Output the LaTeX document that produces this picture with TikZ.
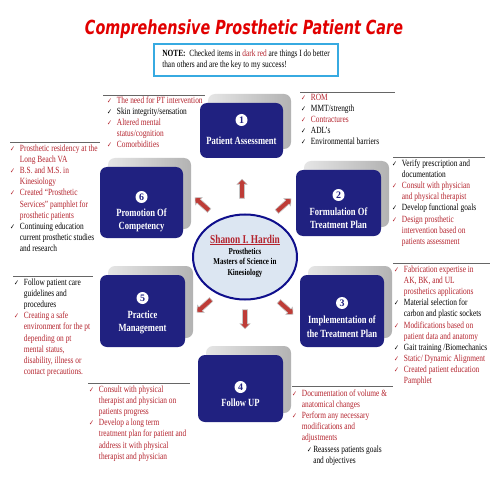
\documentclass[tikz,border=0pt]{standalone}
\usepackage{fontspec}
\setmainfont{Liberation Serif}
\newfontfamily\titlefont{DejaVu Sans}
\newfontfamily\checkfont{DejaVu Sans}
\usetikzlibrary{shapes.geometric,shapes.arrows}

\definecolor{navy}{RGB}{32,33,128}
\definecolor{dred}{RGB}{180,35,45}
\definecolor{titlered}{RGB}{225,0,0}
\definecolor{notecyan}{RGB}{55,170,225}
\definecolor{ellfill}{RGB}{220,230,242}
\definecolor{ellline}{RGB}{15,15,140}
\definecolor{arrowred}{RGB}{190,60,55}

\newcommand{\sq}[1]{\scalebox{0.78}[1]{#1}}
\newcommand{\ck}{{\checkfont\fontsize{7.5}{7.5}\selectfont ✓}}
\newcommand{\ok}[2]{\par\hangindent=12.5bp\hangafter=1\noindent\strut
  \textcolor{#1}{\makebox[12.5bp][l]{\ck}#2}}
\newcommand{\oksub}[2]{\par\hangindent=27bp\hangafter=1\noindent\strut
  \hspace*{19bp}\textcolor{#1}{\makebox[8bp][l]{\ck}#2}}
\newcommand{\block}[1]{\sq{\parbox[t]{170bp}{\fontsize{9.5}{11.2}\selectfont #1}}}
\newcommand{\lbl}[1]{\sq{\begin{tabular}{@{}c@{}}#1\end{tabular}}}

\begin{document}
\begin{tikzpicture}[x=1bp,y=-1bp,
    backbox/.style={rounded corners=7bp, left color=gray!20, right color=gray!60},
    frontbox/.style={rounded corners=7bp, fill=navy, inner sep=0pt},
    numdot/.style={circle, fill=white, inner sep=0pt, minimum size=12bp,
      text=navy, font=\bfseries\fontsize{10}{10}\selectfont},
    boxlabel/.style={text=white, font=\bfseries\fontsize{11}{13.5}\selectfont},
    ptr/.style={single arrow, fill=arrowred, draw=gray!45, line width=0.6bp,
      minimum height=19bp, minimum width=9.5bp, single arrow head extend=2.5bp,
      inner xsep=0pt, inner ysep=2.2bp},
    rulegray/.style={draw=gray!80!black, line width=0.8bp},
    items/.style={anchor=north west, inner sep=0pt}]

  \useasboundingbox[fill=white] (0,0) rectangle (495,495);

  % title and note
  \node[anchor=base, text=titlered] (title) at (244,35)
    {\resizebox{318bp}{\height}{\titlefont\bfseries\itshape\fontsize{19.5}{20}\selectfont
     Comprehensive Prosthetic Patient Care}};
  \node[draw=notecyan, line width=2bp, minimum width=184bp, minimum height=32bp,
        inner sep=0pt] (note) at (246,60)
    {\sq{\fontsize{9.5}{11}\selectfont\begin{tabular}{@{}l@{}}
      \textbf{NOTE:}\enspace Checked items in \textcolor{dred}{dark red} are things I do better\\
      than others and are the key to my success!\end{tabular}}};

  % rules over the lists
  \draw[rulegray] (103,95.5)--(205,95.5);
  \draw[rulegray] (300,92)--(395,92);
  \draw[rulegray] (10,142)--(100,142);
  \draw[rulegray] (393,157)--(485,157);
  \draw[rulegray] (13,276)--(93,276);
  \draw[rulegray] (393,263)--(490,263);
  \draw[rulegray] (88,383)--(190,383);
  \draw[rulegray] (292,386)--(393,386);

  % the six steps
  \foreach \n/\cx/\cy/\w/\h/\ny/\ly/\txt in {
      1/241.5/130.5/83/55/120/142/{Patient Assessment},
      2/338.5/203/85/66/195/219.5/{Formulation Of\\Treatment Plan},
      3/342/311/84/72/303/328/{Implementation of\\the Treatment Plan},
      4/240.5/388.5/85/67/387/404/{Follow UP},
      5/142.5/311/85/72/298/322.5/{Practice\\Management},
      6/141.5/202.5/83/71/197/220.5/{Promotion Of\\Competency}}
  {
    \path[backbox] (\cx-\w/2+8,\cy-\h/2-9) rectangle ++(\w,\h);
    \node[frontbox, minimum width=\w bp, minimum height=\h bp] (b\n) at (\cx,\cy) {};
    \node[numdot] (n\n) at (\cx,\ny) {\n};
    \node[boxlabel] (l\n) at (\cx,\ly) {\lbl{\txt}};
  }

  % centre
  \node[ellipse, draw=ellline, line width=2bp, fill=ellfill, minimum width=104bp,
        minimum height=85bp, inner sep=0pt] (hub) at (245,257)
    {\sq{\bfseries\fontsize{9}{11}\selectfont\begin{tabular}{@{}c@{}}
      {\fontsize{12}{12}\selectfont\textcolor{dred}{\underline{Shanon I. Hardin}}}\\
      Prosthetics\\ Masters of Science in\\ Kinesiology\end{tabular}}};

  \foreach \a/\x/\y/\r in {1/242/190/90, 2/283/206/42, 3/285/307/-42,
                           4/245/318/-90, 5/205/305/-138, 6/203/205/138}
    \node[ptr, rotate=\r] (a\a) at (\x,\y) {};

  % lists
  \node[items] (t1l) at (107,95.3) {\block{
    \ok{dred}{The need for PT intervention}
    \ok{black}{Skin integrity/sensation}
    \ok{dred}{Altered mental\\status/cognition}
    \ok{dred}{Comorbidities}}};
  \node[items] (t1r) at (301,92.3) {\block{
    \ok{dred}{ROM}
    \ok{black}{MMT/strength}
    \ok{dred}{Contractures}
    \ok{black}{ADL's}
    \ok{black}{Environmental barriers}}};
  \node[items] (t6) at (10,143.3) {\block{
    \ok{dred}{Prosthetic residency at the\\Long Beach VA}
    \ok{dred}{B.S. and M.S. in\\Kinesiology}
    \ok{dred}{Created ``Prosthetic\\Services'' pamphlet for\\prosthetic patients}
    \ok{black}{Continuing education\\current prosthetic studies\\and research}}};
  \node[items] (t2) at (392,158.3) {\block{
    \ok{black}{Verify prescription and\\documentation}
    \ok{dred}{Consult with physician\\and physical therapist}
    \ok{black}{Develop functional goals}
    \ok{dred}{Design prosthetic\\intervention based on\\patients assessment}}};
  \node[items] (t5) at (14,277.3) {\block{
    \ok{black}{Follow patient care\\guidelines and\\procedures}
    \ok{dred}{Creating a safe\\environment for the pt\\depending on pt\\mental status,\\disability, illness or\\contact precautions.}}};
  \node[items] (t3) at (394,264.3) {\block{
    \ok{dred}{Fabrication expertise in\\AK, BK, and UL\\prosthetics applications}
    \ok{black}{Material selection for\\carbon and plastic sockets}
    \ok{dred}{Modifications based on\\patient data and anatomy}
    \ok{black}{Gait training /Biomechanics}
    \ok{dred}{Static/ Dynamic Alignment}
    \ok{dred}{Created patient education\\Pamphlet}}};
  \node[items] (t4l) at (89,384.3) {\block{
    \ok{dred}{Consult with physical\\therapist and physician on\\patients progress}
    \ok{dred}{Develop a long term\\treatment plan for patient and\\address it with physical\\therapist and physician}}};
  \node[items] (t4r) at (292,388.3) {\block{
    \ok{dred}{Documentation of volume \&\\anatomical changes}
    \ok{dred}{Perform any necessary\\modifications and\\adjustments}
    \oksub{black}{Reassess patients goals\\and objectives}}};

\end{tikzpicture}
\end{document}
